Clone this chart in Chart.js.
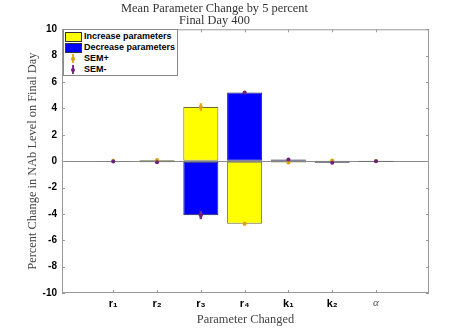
<!DOCTYPE html>
<html lang="en">
<head>
<meta charset="UTF-8">
<title>Mean Parameter Change by 5 percent</title>
<script src="https://cdn.jsdelivr.net/npm/chart.js@4.4.1/dist/chart.umd.min.js"></script>
<style>
  html, body { margin: 0; padding: 0; background: #fff; }
  #wrap { position: relative; width: 474px; height: 329px; }
  #legend {
    position: absolute; left: 63px; top: 29px; width: 115px; height: 47px;
    border: 1px solid #888; background: #fff; box-sizing: border-box;
    font: bold 9px "Liberation Sans", Arial, sans-serif; color: #000;
  }
  .row { position: absolute; left: 1px; height: 11px; line-height: 11px; white-space: nowrap; }
  .sw { position: absolute; left: 0; top: 1px; width: 15px; height: 8px; border: 1px solid #333; }
  .eb { position: absolute; left: 7px; top: 1px; width: 2px; height: 9px; }
  .dot { position: absolute; left: 6px; top: 4px; width: 4px; height: 4px; border-radius: 2px; }
  .txt { position: absolute; left: 19px; top: 0; }
</style>
</head>
<body>
<div id="wrap">
  <canvas id="myChart" width="474" height="329"></canvas>
  <div id="legend">
    <div class="row" style="top:1px"><span class="sw" style="background:#ffff00"></span><span class="txt">Increase parameters</span></div>
    <div class="row" style="top:12px"><span class="sw" style="background:#0000ff"></span><span class="txt">Decrease parameters</span></div>
    <div class="row" style="top:23px"><span class="eb" style="background:#edb120"></span><span class="dot" style="background:#d9a010"></span><span class="txt">SEM+</span></div>
    <div class="row" style="top:34px"><span class="eb" style="background:#7e2f8e"></span><span class="dot" style="background:#6a2478"></span><span class="txt">SEM-</span></div>
  </div>
</div>
<script>
// data
var categories = ['r\u2081', 'r\u2082', 'r\u2083', 'r\u2084', 'k\u2081', 'k\u2082', '\u03b1'];
var increaseVals = [0.03, 0.08, 4.1, -4.75, -0.1, 0.05, 0.01];
var decreaseVals = [-0.03, -0.08, -4.1, 5.2, 0.12, -0.12, -0.01];
var semPlus = [0.08, 0.08, 0.3, 0.12, 0.1, 0.1, 0.08];
var semMinus = [0.08, 0.08, 0.3, 0.12, 0.1, 0.1, 0.08];
var yTicks = [-10, -8, -6, -4, -2, 0, 2, 4, 6, 8, 10];

function toPoints(vals) {
    return vals.map(function (v, i) { return { x: i + 1, y: v }; });
}

var serif = '"Liberation Serif", "DejaVu Serif", serif';
var sans = '"Liberation Sans", Arial, sans-serif';

// error bars + box with inward ticks, like matlab
var matlabBits = {
    id: 'matlabBits',
    afterDatasetsDraw: function (chart) {
        var c = chart.ctx, x = chart.scales.x, y = chart.scales.y;
        var sets = [[increaseVals, semPlus, '#edb120', '#d9a010'], [decreaseVals, semMinus, '#7e2f8e', '#6a2478']];
        c.save();
        sets.forEach(function (s) {
            s[0].forEach(function (v, i) {
                var px = x.getPixelForValue(i + 1);
                c.strokeStyle = s[2];
                c.lineWidth = 2.5;
                c.beginPath();
                c.moveTo(px, y.getPixelForValue(v - s[1][i]));
                c.lineTo(px, y.getPixelForValue(v + s[1][i]));
                c.stroke();
                c.fillStyle = s[3];
                c.beginPath();
                c.arc(px, y.getPixelForValue(v), 2, 0, Math.PI * 2);
                c.fill();
            });
        });
        c.restore();
    },
    afterDraw: function (chart) {
        var c = chart.ctx, a = chart.chartArea, x = chart.scales.x, y = chart.scales.y;
        c.save();
        c.strokeStyle = '#999';
        c.lineWidth = 1;
        c.strokeRect(a.left + 0.5, a.top + 0.5, a.right - a.left - 1, a.bottom - a.top - 1);
        c.beginPath();
        yTicks.forEach(function (t) {
            var py = Math.round(y.getPixelForValue(t)) + 0.5;
            c.moveTo(a.left, py); c.lineTo(a.left + 3, py);
            c.moveTo(a.right, py); c.lineTo(a.right - 3, py);
        });
        categories.forEach(function (_, i) {
            var px = Math.round(x.getPixelForValue(i + 1)) + 0.5;
            c.moveTo(px, a.bottom); c.lineTo(px, a.bottom - 3);
            c.moveTo(px, a.top); c.lineTo(px, a.top + 3);
        });
        c.stroke();
        c.restore();
    }
};

var ctx = document.getElementById('myChart').getContext('2d');
var myChart = new Chart(ctx, {
    type: 'bar',
    data: {
        datasets: [{
            label: 'Increase parameters',
            data: toPoints(increaseVals),
            backgroundColor: '#ffff00',
            borderColor: '#6b6b3a',
            borderWidth: 1,
            borderSkipped: false
        }, {
            label: 'Decrease parameters',
            data: toPoints(decreaseVals),
            backgroundColor: '#0000ff',
            borderColor: '#22224a',
            borderWidth: 1,
            borderSkipped: false
        }]
    },
    options: {
        responsive: false,
        animation: false,
        layout: { padding: { right: 45 } },
        barPercentage: 0.8,
        categoryPercentage: 1,
        plugins: {
            legend: { display: false },
            tooltip: { enabled: false },
            title: {
                display: true,
                text: ['Mean Parameter Change by 5 percent', 'Final Day 400'],
                color: '#333',
                font: { family: serif, size: 12.4, weight: 'normal', lineHeight: 0.98 },
                padding: { top: 3, bottom: 2 }
            }
        },
        scales: {
            x: {
                type: 'linear',
                stacked: true,
                offset: false,
                min: -0.17,
                max: 8.21,
                afterBuildTicks: function (scale) {
                    scale.ticks = categories.map(function (_, i) { return { value: i + 1 }; });
                },
                afterFit: function (scale) { scale.height = 36; },
                grid: { display: false, drawTicks: false },
                border: { display: false },
                ticks: {
                    autoSkip: false,
                    maxRotation: 0,
                    padding: 4,
                    color: function (c) { return c.tick && c.tick.value === 7 ? '#555' : '#000'; },
                    font: function (c) {
                        if (c.tick && c.tick.value === 7) return { family: serif, size: 11, style: 'italic' };
                        return { family: sans, size: 11, weight: 'bold' };
                    },
                    callback: function (v) { return categories[v - 1] || ''; }
                },
                title: {
                    display: true,
                    text: 'Parameter Changed',
                    color: '#444',
                    font: { family: serif, size: 12.4 },
                    padding: { top: 0, bottom: 2 }
                }
            },
            y: {
                stacked: true,
                min: -10,
                max: 10,
                afterBuildTicks: function (scale) {
                    scale.ticks = yTicks.map(function (t) { return { value: t }; });
                },
                afterFit: function (scale) { scale.width = 62; },
                border: { display: false },
                grid: {
                    drawTicks: false,
                    color: function (c) { return c.tick && c.tick.value === 0 ? '#888' : 'rgba(0,0,0,0)'; }
                },
                ticks: {
                    padding: 5,
                    color: '#000',
                    font: { family: sans, size: 10, weight: 'bold' }
                },
                title: {
                    display: true,
                    text: 'Percent Change in NAb Level on Final Day',
                    color: '#444',
                    font: { family: serif, size: 12.4 },
                    padding: { top: 25, bottom: 0 }
                }
            }
        }
    },
    plugins: [matlabBits]
});
</script>
</body>
</html>
